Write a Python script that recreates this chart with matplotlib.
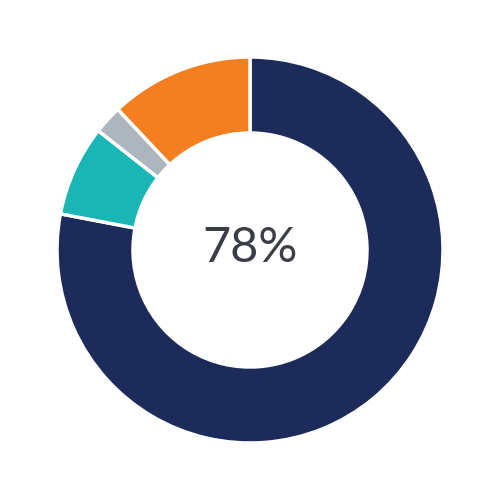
import matplotlib
matplotlib.use("Agg")
import matplotlib.pyplot as plt

labels = ["Navy", "Teal", "Gray", "Orange"]
values = [78, 7.6, 2.4, 12]
colors = ["#1c2b59", "#1ab5b5", "#adb5bf", "#f37f20"]
center_label = "78%"

fig = plt.figure(figsize=(5, 5), dpi=100)
ax = fig.add_axes([0, 0, 1, 1])
ax.pie(values, colors=colors, startangle=90, counterclock=False,
       radius=1.0,
       wedgeprops=dict(width=76/193, edgecolor="white", linewidth=2.5))
ax.text(0, 0.01, center_label, ha="center", va="center", fontsize=35,
        family=["Lato", "DejaVu Sans"], color="#3b3f45")
lim = 250 / 193
ax.set_xlim(-lim, lim)
ax.set_ylim(-lim, lim)
ax.set_aspect("equal")
ax.axis("off")
fig.savefig("out.png", dpi=100, facecolor="white")
